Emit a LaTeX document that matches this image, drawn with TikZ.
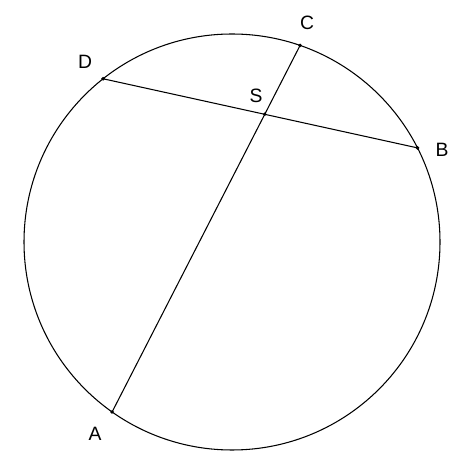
\documentclass[tikz,border=0pt]{standalone}
\usepackage{fontspec}
\setmainfont{Liberation Sans}
\usetikzlibrary{positioning, calc, intersections}
\tikzset{%
  chord/.style={line width=0.6pt},
  rim/.style={line width=0.6pt},
  pt/.style={circle, fill=black, inner sep=0pt, minimum size=2.2pt},
  lbl/.style={font=\fontsize{11}{13}\selectfont, inner sep=0pt}
}
\begin{document}
\begin{tikzpicture}[x=0.02cm, y=0.02cm]
  \useasboundingbox (0,0) rectangle (474,476);

  \coordinate (O) at (232,234);
  \draw[rim] (O) circle (208);

  \coordinate (A) at ($(O)+(234.8:208)$);
  \coordinate (B) at ($(O)+(26.9:208)$);
  \coordinate (C) at ($(O)+(70.9:208)$);
  \coordinate (D) at ($(O)+(128.3:208)$);

  \draw[chord, name path=ac] (A) -- (C);
  \draw[chord, name path=db] (D) -- (B);
  \path[name intersections={of=ac and db, by=S}];

  \foreach \p in {A,B,C,D,S}
    \node[pt] at (\p) {};

  \node[lbl] (lA) at (95,42) {A};
  \node[lbl] (lB) at (442,326) {B};
  \node[lbl] (lC) at (307,453) {C};
  \node[lbl] (lD) at (85,414) {D};
  \node[lbl] (lS) at (256,380) {S};
\end{tikzpicture}
\end{document}
